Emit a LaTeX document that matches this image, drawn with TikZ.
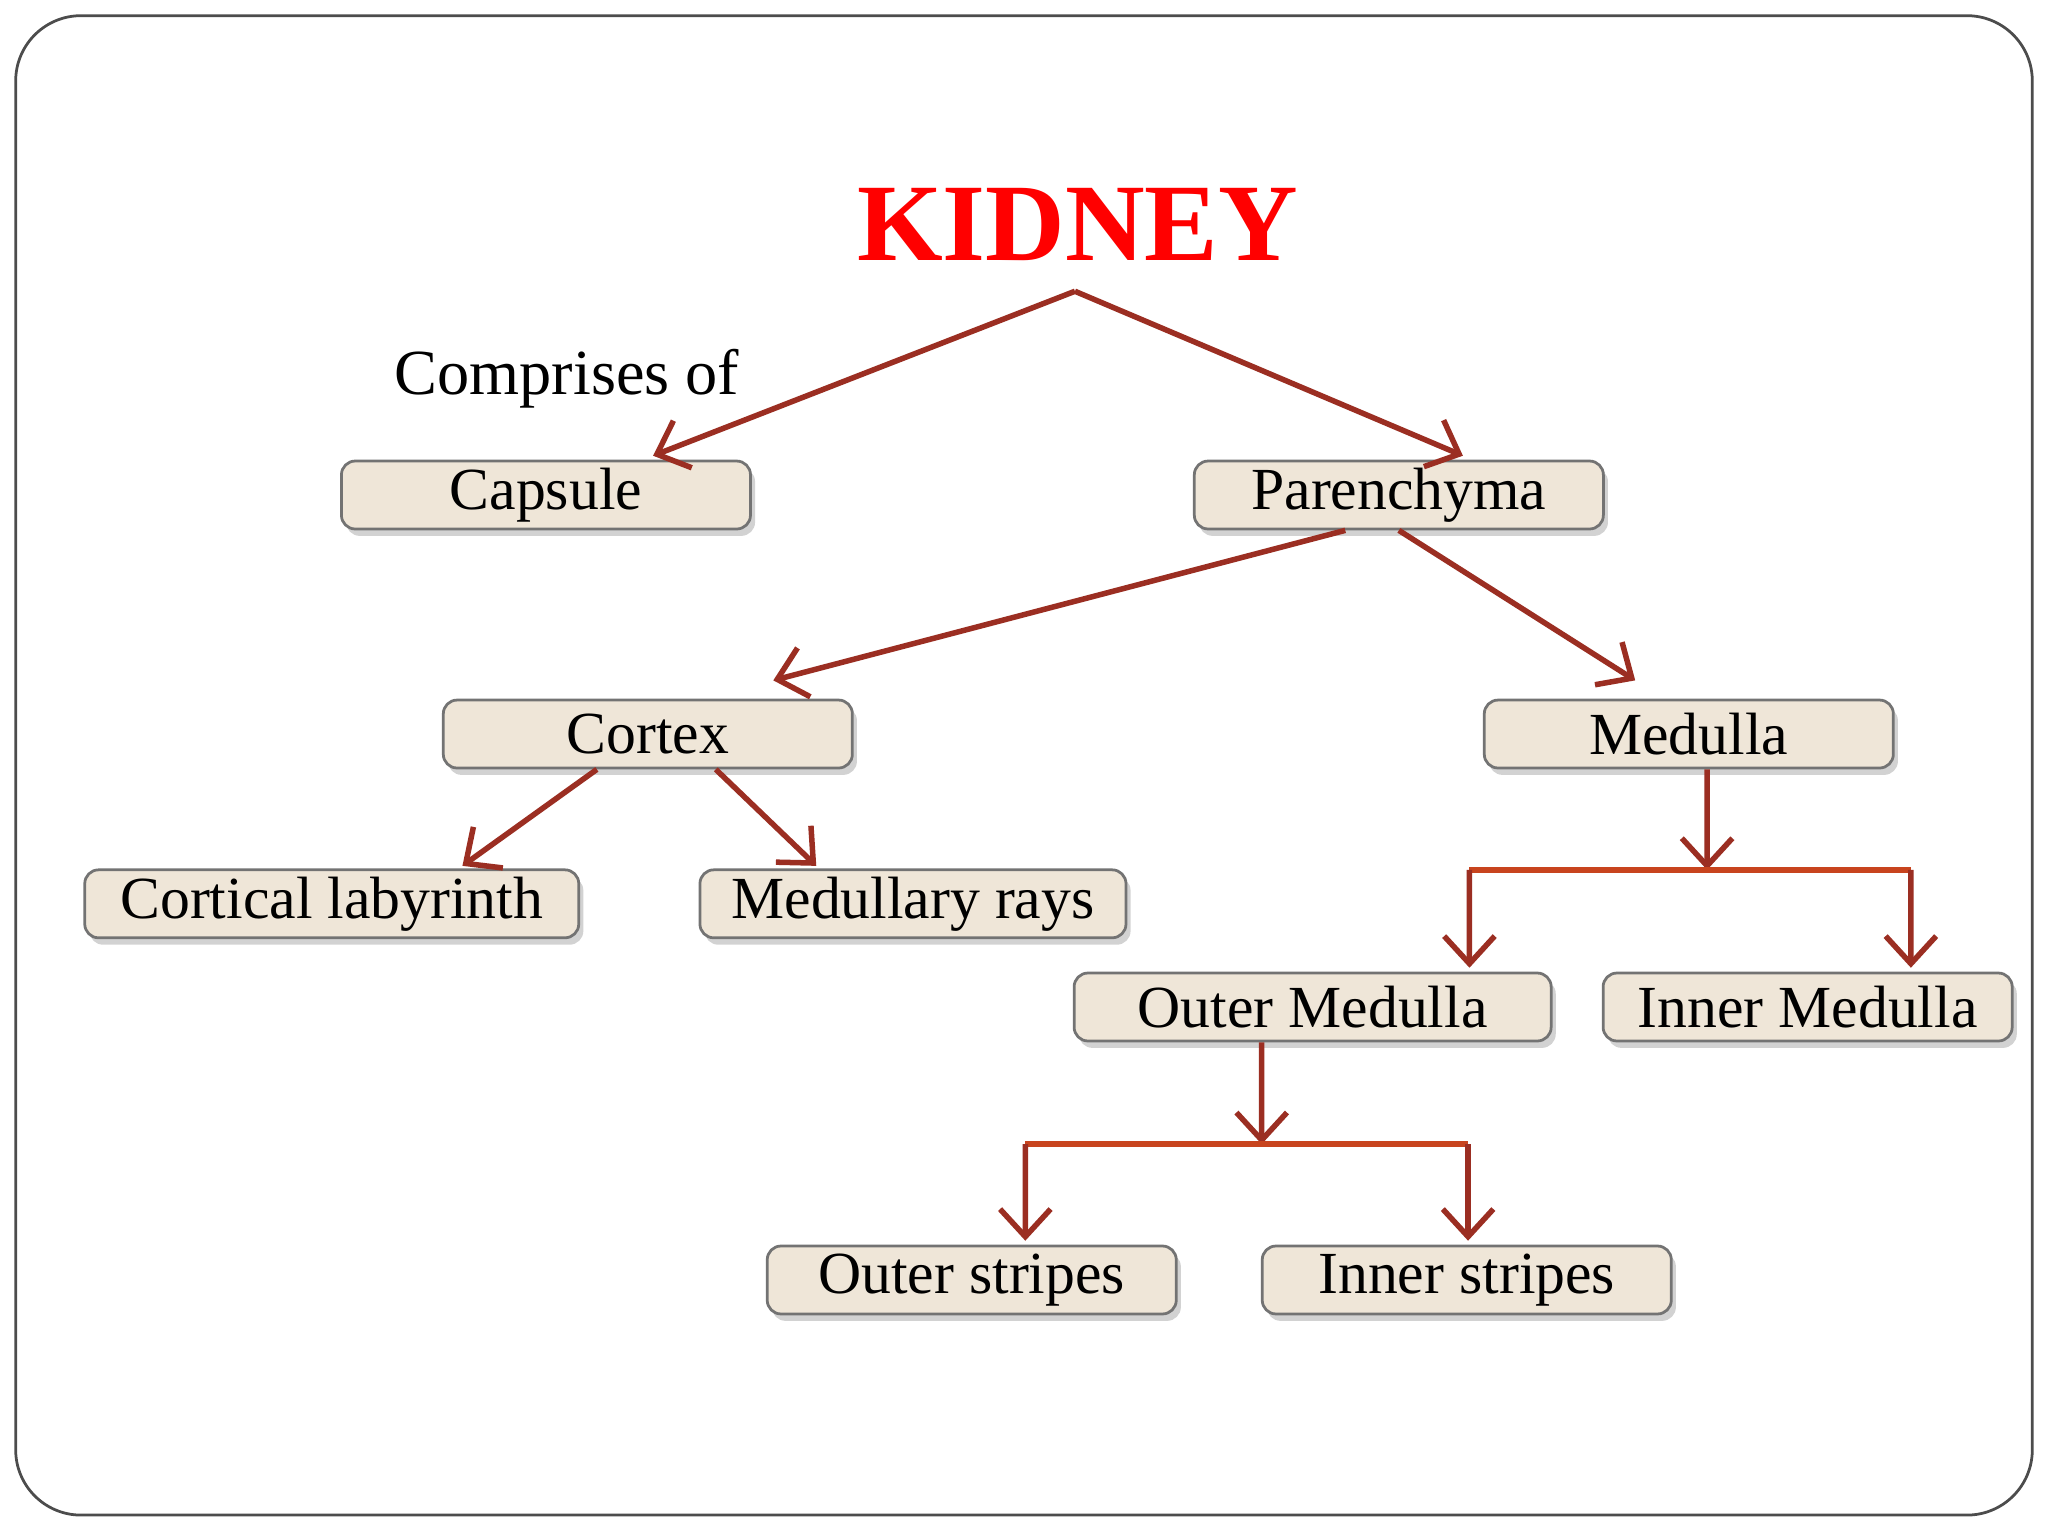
\documentclass[tikz,border=0pt]{standalone}
\usepackage{fontspec}
\setmainfont{Liberation Serif}
\usetikzlibrary{shadows,arrows.meta}
\definecolor{boxfill}{HTML}{EFE6D8}
\definecolor{arr}{HTML}{9B2E22}
\definecolor{brk}{HTML}{C8441E}
\begin{document}
\begin{tikzpicture}[x=0.01cm,y=-0.01cm,
 box/.style={draw=black!55,line width=0.6pt,fill=boxfill,rounded corners=3pt,minimum width=3.13cm,minimum height=0.52cm,inner sep=0pt,font=\fontsize{13}{15}\selectfont,drop shadow={shadow xshift=1pt,shadow yshift=-1.5pt,opacity=0.35}},
 ar/.style={draw=arr,line width=1.2pt,-{Straight Barb[length=6pt,width=11pt,line width=1.2pt]}},
 br/.style={draw=brk,line width=1.3pt}]
\useasboundingbox (0,0) rectangle (1568,1176);
\draw[black!70,line width=0.6pt,rounded corners=0.5cm,fill=white] (12,12) rectangle (1556,1160);
\node[font=\fontsize{24}{28}\selectfont\bfseries,text=red] (kid) at (825,172) {KIDNEY};
\coordinate (kt) at (823,223);
\node at (434,290) [font=\fontsize{14}{16}\selectfont] (cmp) {Comprises of};
\node[box] (cap) at (418,379) {Capsule};
\node[box] (par) at (1071,379) {Parenchyma};
\node[box] (cor) at (496,562) {Cortex};
\node[box] (med) at (1293,562) {Medulla};
\node[box,minimum width=3.78cm] (cl) at (254,692) {Cortical labyrinth};
\node[box,minimum width=3.26cm] (mr) at (699,692) {Medullary rays};
\node[box,minimum width=3.65cm] (om) at (1005,771) {Outer Medulla};
\node[box] (im) at (1384,771) {Inner Medulla};
\node[box] (os) at (744,980) {Outer stripes};
\node[box] (is) at (1123,980) {Inner stripes};
\draw[ar] (kt) -- ([xshift=0.82cm,yshift=0.03cm]cap.north);
\draw[ar] (kt) -- ([xshift=0.49cm,yshift=0.03cm]par.north);
\draw[ar] ([xshift=-0.41cm]par.south) -- ([xshift=0.96cm,yshift=0.14cm]cor.north);
\draw[ar] (par.south) -- ([xshift=-0.41cm,yshift=0.14cm]med.north);
\draw[ar] ([xshift=-0.39cm]cor.south) -- ([xshift=1.0cm,yshift=0.02cm]cl.north);
\draw[ar] ([xshift=0.52cm]cor.south) -- ([xshift=-0.74cm,yshift=0.02cm]mr.north);
\coordinate (mb) at (1307,666);
\draw[ar] ([xshift=0.14cm]med.south) -- (mb);
\draw[br] (1125,666) -- (1463,666);
\draw[ar] (1125,666) -- ([xshift=1.2cm,yshift=0.03cm]om.north);
\draw[ar] (1463,666) -- ([xshift=0.79cm,yshift=0.03cm]im.north);
\coordinate (ob) at (966,876);
\draw[ar] ([xshift=-0.39cm]om.south) -- (ob);
\draw[br] (785,876) -- (1124,876);
\draw[ar] (785,876) -- ([xshift=0.41cm,yshift=0.03cm]os.north);
\draw[ar] (1124,876) -- ([xshift=0.01cm,yshift=0.03cm]is.north);
\end{tikzpicture}
\end{document}
